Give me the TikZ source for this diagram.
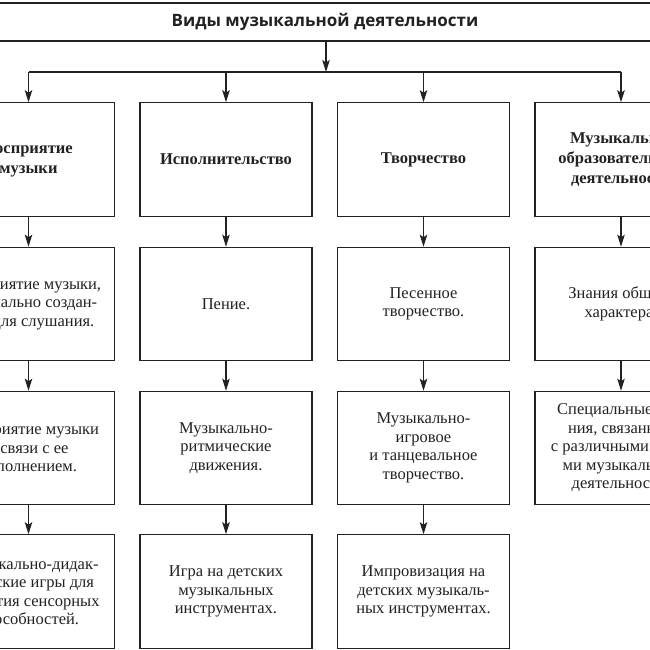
\documentclass[tikz,border=0pt]{standalone}
\usepackage{fontspec}
\setmainfont{Liberation Serif}
\newfontfamily\titlefont{Open Sans}
\usetikzlibrary{arrows.meta}
\definecolor{ink}{HTML}{222222}
\begin{document}
\begin{tikzpicture}[x=1pt,y=-1pt,
  every node/.style={text=ink},
  box/.style={draw=ink, line width=1.1pt, minimum width=172pt, minimum height=113.5pt,
    align=center, inner sep=0pt, font=\fontsize{16.5}{18.5}\selectfont},
  headbox/.style={box, font=\fontsize{16.5}{20}\selectfont\bfseries},
  arr/.style={draw=ink, line width=1.1pt, -{Stealth[length=12pt,width=7.5pt,inset=2.5pt]}},
  link/.style={draw=ink, line width=1.1pt}]
\useasboundingbox (0,0) rectangle (650,650);
\clip (0,0) rectangle (650,650);
\fill[white] (0,0) rectangle (650,650);

\node[draw=ink, line width=2pt, minimum width=720pt, minimum height=38pt, inner sep=0pt,
  font=\titlefont\bfseries\fontsize{17}{20}\selectfont] (title) at (325,22.3)
  {Виды музыкальной деятельности};

% row 1
\node[headbox] (c11) at (28.5,159.5) {Восприятие\\музыки};
\node[headbox] (c21) at (226,159.5) {Исполнительство};
\node[headbox] (c31) at (423.5,159.5) {Творчество};
\node[headbox] (c41) at (621,159.5) {Музыкально-\\образовательная\\деятельность};
% row 2
\node[box] (c12) at (28.5,304) {Восприятие музыки,\\специально создан-\\ной для слушания.};
\node[box] (c22) at (226,304) {Пение.};
\node[box] (c32) at (423.5,304) {Песенное\\творчество.};
\node[box] (c42) at (621,304) {Знания общего\\характера.};
% row 3
\node[box] (c13) at (28.5,448) {Восприятие музыки\\в связи с ее\\исполнением.};
\node[box] (c23) at (226,448) {Музыкально-\\ритмические\\движения.};
\node[box] (c33) at (423.5,448) {Музыкально-\\игровое\\и танцевальное\\творчество.};
\node[box] (c43) at (621,448) {Специальные зна-\\ния, связанные\\с различными вида-\\ми музыкальной\\деятельности.};
% row 4
\node[box] (c14) at (28.5,591.5) {Музыкально-дидак-\\тические игры для\\развития сенсорных\\способностей.};
\node[box] (c24) at (226,591.5) {Игра на детских\\музыкальных\\инструментах.};
\node[box] (c34) at (423.5,591.5) {Импровизация на\\детских музыкаль-\\ных инструментах.};

% connectors
\coordinate (br) at (326,72);
\draw[arr] (title.south -| br) -- (br);
\draw[link] (c11.north |- br) -- (c41.north |- br);
\foreach \c in {c11,c21,c31,c41}{
  \draw[arr] (\c.north |- br) -- (\c.north);
}
\foreach \a/\b in {c11/c12,c12/c13,c13/c14,c21/c22,c22/c23,c23/c24,c31/c32,c32/c33,c33/c34,c41/c42,c42/c43}{
  \draw[arr] (\a) -- (\b);
}
\end{tikzpicture}
\end{document}
